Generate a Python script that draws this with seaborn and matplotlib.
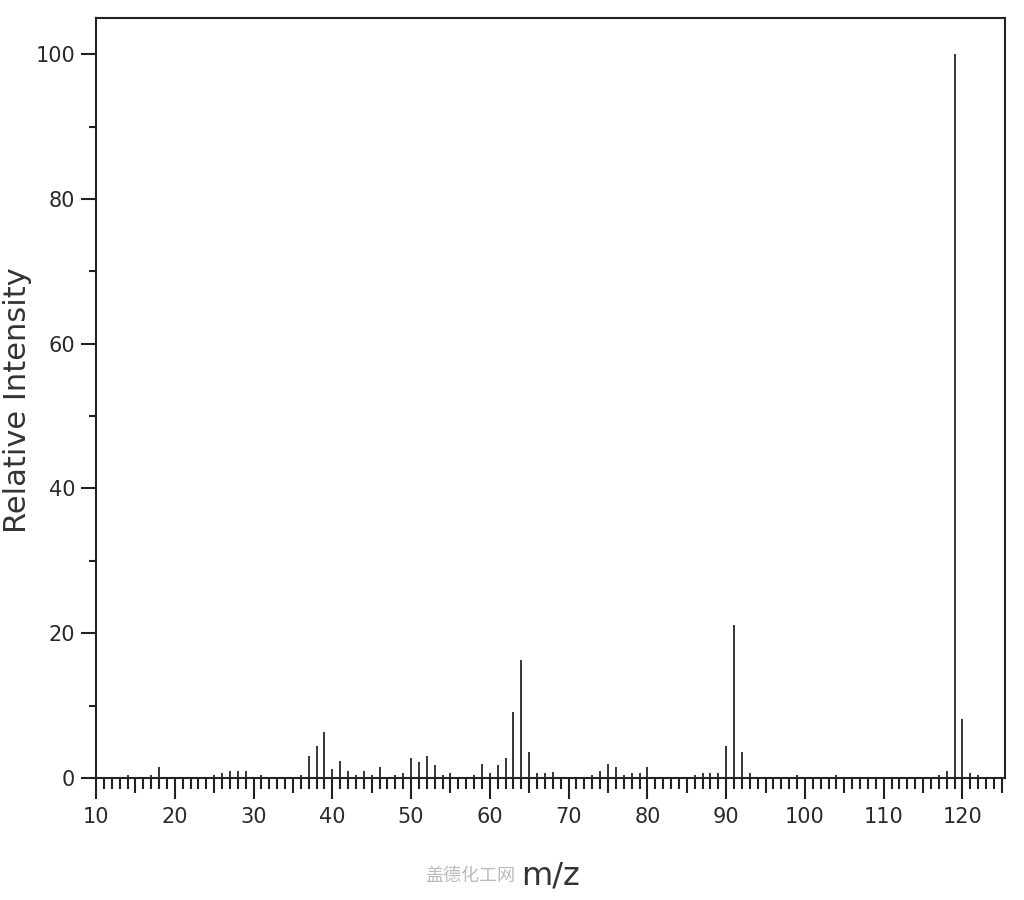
import matplotlib
matplotlib.use("Agg")
import matplotlib.pyplot as plt
import seaborn as sns
import numpy as np
import pandas as pd
from matplotlib.ticker import MultipleLocator, FuncFormatter

# ---- data (m/z and relative intensity) ----
mz = [14, 17, 18, 25, 26, 27, 28, 29, 31, 36, 37, 38, 39, 40, 41, 42, 43, 44, 45, 46,
      48, 49, 50, 51, 52, 53, 54, 55, 56, 58, 59, 60, 61, 62, 63, 64, 65, 66, 67, 68,
      73, 74, 75, 76, 77, 78, 79, 80, 86, 87, 88, 89, 90, 91, 92, 93, 99, 104,
      117, 118, 119, 120, 121, 122]
intensity = [0.45, 0.45, 1.5, 0.45, 0.7, 1.0, 1.0, 1.0, 0.45, 0.45, 3.0, 4.4, 6.4, 1.2, 2.4, 1.0, 0.45, 1.0, 0.45, 1.5,
             0.45, 0.7, 2.7, 2.2, 3.0, 1.75, 0.45, 0.7, 0.2, 0.45, 2.0, 0.7, 1.75, 2.8, 9.1, 16.3, 3.6, 0.7, 0.7, 0.8,
             0.45, 1.0, 2.0, 1.5, 0.45, 0.7, 0.7, 1.5, 0.45, 0.7, 0.7, 0.7, 4.4, 21.2, 3.6, 0.7, 0.4, 0.4,
             0.4, 1.0, 100.0, 8.2, 0.7, 0.4]
x_label_values = [10, 20, 30, 40, 50, 60, 70, 80, 90, 100, 110, 120]
y_label_values = [0, 20, 40, 60, 80, 100]

df = pd.DataFrame({"mz": mz, "intensity": intensity})

sns.set_theme(style="ticks")
plt.rcParams["font.family"] = ["DejaVu Sans", "Noto Sans CJK SC"]

W, H = 1024, 900
fig = plt.figure(figsize=(W / 100, H / 100), dpi=100)
fig.patch.set_facecolor("white")
L, R, T, B = 96, 1005, 18, 778
ax = fig.add_axes([L / W, 1 - B / H, (R - L) / W, (B - T) / H])
ax.set_facecolor("white")

ax.vlines(df["mz"], 0, df["intensity"], color="black", linewidth=1.1)

ax.set_xlim(10, 125.4)
ax.set_ylim(0, 105)

for s in ax.spines.values():
    s.set_linewidth(1.5)
    s.set_color("#222222")
    s.set_visible(True)

txt = "#2a2a2a"
# x axis ticks
ax.xaxis.set_major_locator(MultipleLocator(5))
ax.xaxis.set_minor_locator(MultipleLocator(1))
ax.xaxis.set_major_formatter(FuncFormatter(
    lambda v, p: f"{int(round(v))}" if int(round(v)) in x_label_values else ""))
ax.tick_params(axis="x", which="major", direction="out", length=15, width=1.5,
               color="#222222", labelsize=15, labelcolor=txt, pad=6)
ax.tick_params(axis="x", which="minor", direction="out", length=8, width=1.5,
               color="#222222")
# y axis ticks
ax.yaxis.set_major_locator(MultipleLocator(20))
ax.yaxis.set_minor_locator(MultipleLocator(10))
ax.yaxis.set_major_formatter(FuncFormatter(
    lambda v, p: f"{int(round(v))}" if int(round(v)) in y_label_values else ""))
ax.tick_params(axis="y", which="major", direction="out", length=11, width=1.5,
               color="#222222", labelsize=15, labelcolor=txt, pad=4)
ax.tick_params(axis="y", which="minor", direction="out", length=5, width=1.5,
               color="#222222")

# shorten the ticks at the 5s
fig.canvas.draw()
for tick in ax.xaxis.get_major_ticks():
    v = tick.get_loc()
    if int(round(v)) % 10 != 0:
        tick.tick1line.set_markersize(10.8)

fig.text(18 / W, 1 - 400 / H, "Relative Intensity", rotation=90, ha="center",
         va="center", fontsize=22, color="#333333")
fig.text(550 / W, 1 - 876 / H, "m/z", ha="center", va="center", fontsize=23,
         color="#333333")
fig.text(470 / W, 1 - 876 / H, "盖德化工网", ha="center", va="center", fontsize=13,
         color="#aaaaaa", family=["Noto Sans CJK SC", "DejaVu Sans"], alpha=0.8)

fig.savefig("out.png", dpi=100, facecolor="white")
